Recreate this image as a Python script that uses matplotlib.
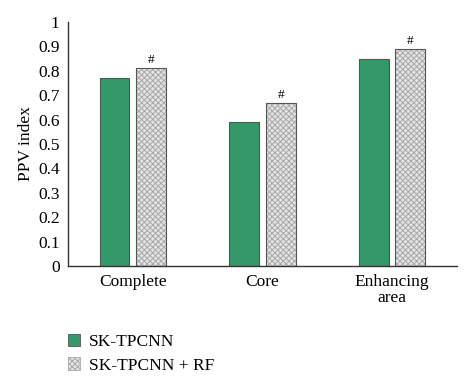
import matplotlib.pyplot as plt
import matplotlib.patches as mpatches
import numpy as np

plt.rcParams['font.family'] = ['Liberation Serif', 'DejaVu Serif']
plt.rcParams['hatch.linewidth'] = 0.7

# ── Datos ────────────────────────────────────────────────
categorias = ['Complete', 'Core', 'Enhancing\narea']
sk_tpcnn   = [0.77, 0.59, 0.85]
sk_rf      = [0.81, 0.67, 0.89]
marcas     = ['#', '#', '#']
series     = ['SK-TPCNN', 'SK-TPCNN + RF']

VERDE = '#33996a'
GRIS  = '#e4e4e4'
TRAMA = '#a8a8a8'
BORDE = '#555555'
FS    = 12.5

fig = plt.figure(figsize=(4.74, 3.87), dpi=100)
ax = fig.add_axes([0.1435, 0.3127, 0.8205, 0.6303])

x = np.arange(len(categorias))
w = 0.23
ax.bar(x - 0.142, sk_tpcnn, w, color=VERDE, edgecolor=BORDE, linewidth=0.8)
# relleno con trama clara + borde oscuro encima
ax.bar(x + 0.14, sk_rf, w, color=GRIS, edgecolor=TRAMA, linewidth=0, hatch='xxxxxx')
b2 = ax.bar(x + 0.14, sk_rf, w, fill=False, edgecolor=BORDE, linewidth=0.8)
for r, m in zip(b2, marcas):
    ax.text(r.get_x() + r.get_width() / 2, r.get_height() + 0.008, m,
            ha='center', va='bottom', fontsize=9.5)

ax.set_xlim(-0.5, 2.5)
ax.set_ylim(0, 1)
ax.set_yticks(np.arange(0, 1.01, 0.1))
ax.set_yticklabels(['0'] + [f'{v:.1f}' for v in np.arange(0.1, 0.95, 0.1)] + ['1'])
ax.set_xticks(x)
ax.set_xticklabels(categorias, fontsize=FS, linespacing=1.0)
ax.tick_params(axis='both', length=0, labelsize=FS)
ax.tick_params(axis='y', pad=6)
ax.tick_params(axis='x', pad=6)
for s in ['top', 'right']:
    ax.spines[s].set_visible(False)
for s in ['left', 'bottom']:
    ax.spines[s].set_color('#333333')
    ax.spines[s].set_linewidth(1.0)
ax.set_ylabel('PPV index', fontsize=FS, labelpad=3)

handles = [mpatches.Patch(facecolor=VERDE, edgecolor=BORDE, linewidth=0.6),
           mpatches.Patch(facecolor=GRIS, edgecolor=TRAMA, linewidth=0.6, hatch='xxxxxx')]
fig.legend(handles, series, loc='upper left', bbox_to_anchor=(0.129, 0.155),
           frameon=False, fontsize=FS, handlelength=0.7, handleheight=0.7,
           handletextpad=0.5, labelspacing=0.42, borderaxespad=0)

plt.savefig('out.png', dpi=100)
